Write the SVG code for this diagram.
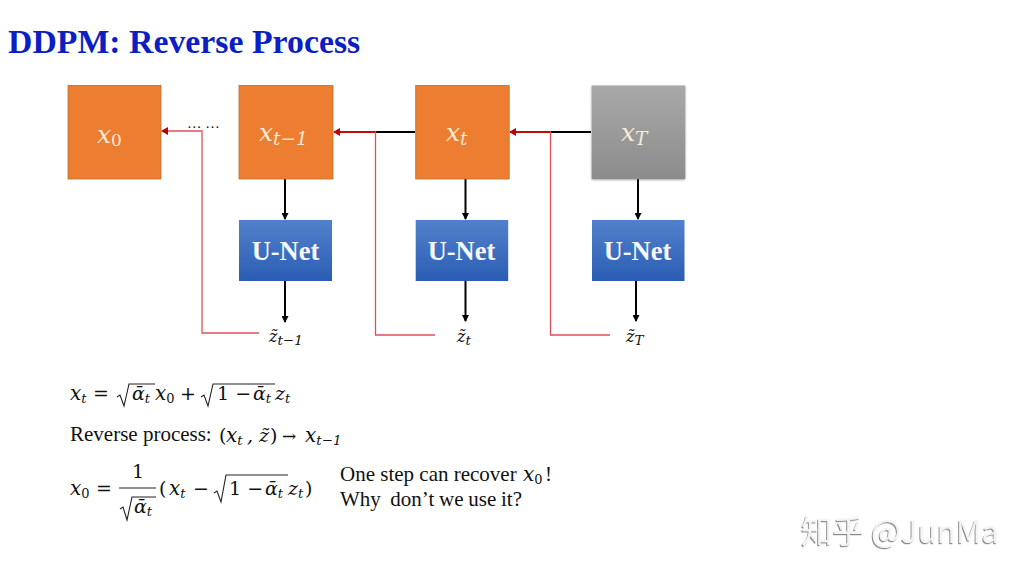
<svg xmlns="http://www.w3.org/2000/svg" width="1024" height="576" viewBox="0 0 1024 576">
<defs>
<linearGradient id="blue" x1="0" y1="0" x2="0" y2="1"><stop offset="0" stop-color="#5280cc"/><stop offset="1" stop-color="#2a5db3"/></linearGradient>
<linearGradient id="gray" x1="0" y1="0" x2="0" y2="1"><stop offset="0" stop-color="#a8a8a8"/><stop offset="1" stop-color="#8c8c8c"/></linearGradient>
<marker id="ab" markerWidth="7" markerHeight="7" refX="6" refY="3.5" orient="auto" markerUnits="userSpaceOnUse" viewBox="0 0 7 7"><path d="M0 0L7 3.500L0 7Z" fill="#000"/></marker>
<marker id="ar" markerWidth="7" markerHeight="8" refX="6" refY="4" orient="auto" markerUnits="userSpaceOnUse" viewBox="0 0 7 8"><path d="M0 0L7 4L0 8Z" fill="#c00000"/></marker>
<filter id="emboss" x="-5%" y="-20%" width="110%" height="140%"><feDropShadow dx="-1" dy="1.2" stdDeviation="0.6" flood-color="#8a8a8a"/></filter>
<filter id="soft" x="-5%" y="-5%" width="112%" height="112%"><feDropShadow dx="0" dy="1" stdDeviation="1.2" flood-color="#666" flood-opacity="0.6"/></filter>
</defs>
<style>
.or{fill:#ed7d31;stroke:#b9702f;stroke-width:.8}
.un{fill:url(#blue)}
.unt{font:bold 26.500px "Liberation Serif",serif;fill:#f4f7fc;text-anchor:middle}
.m{font-family:"DejaVu Serif",serif;font-style:italic;fill:#111}
.mw{font-family:"DejaVu Serif",serif;font-style:italic;fill:#f9ead9}
.r{font-family:"DejaVu Serif",serif;fill:#111}
.t{font:21px "Liberation Serif",serif;fill:#111}
.bk{stroke:#000;stroke-width:2;fill:none}
.rd{stroke:#e0505a;stroke-width:1.3;fill:none}
.rad{stroke:#222;stroke-width:1.1;fill:none}
</style>
<rect width="1024" height="576" fill="#fff"/>
<text id="title" x="8" y="53" style="font:bold 33.800px 'Liberation Serif',serif;fill:#0b1fc4">DDPM: Reverse Process</text>
<g id="connectors">
<path class="bk" d="M415 132H340"/><path class="bk" d="M591 132H516"/>
<path class="rd" d="M259 333H202V131H162" marker-end="url(#ar)"/>
<path class="rd" d="M435 335H375.500V132H334" marker-end="url(#ar)"/>
<path class="rd" d="M610 335H550.500V132H510" marker-end="url(#ar)"/>
<path d="M375 132H336" stroke="#c00000" stroke-width="1.6"/>
<path d="M550 132H511" stroke="#c00000" stroke-width="1.6"/>
<path class="bk" d="M285 179V219" marker-end="url(#ab)"/><path class="bk" d="M285 281V322" marker-end="url(#ab)"/>
<path class="bk" d="M465.500 179V219" marker-end="url(#ab)"/><path class="bk" d="M465.500 281V321" marker-end="url(#ab)"/>
<path class="bk" d="M638 179V219" marker-end="url(#ab)"/><path class="bk" d="M636 281V321" marker-end="url(#ab)"/>
</g>
<g id="node-x0"><rect class="or" x="68" y="85.500" width="93" height="93.500"/><text class="mw" x="97" y="143" font-size="25">x<tspan font-style="normal" font-size="17" dy="3">0</tspan></text></g>
<g id="node-xt1"><rect class="or" x="239" y="85.500" width="94" height="93.500"/><text class="mw" x="259" y="141" font-size="25">x<tspan font-size="18.500" dy="4">t−1</tspan></text></g>
<g id="node-xt"><rect class="or" x="415.700" y="85.500" width="93.500" height="93.500"/><text class="mw" x="446" y="141" font-size="25">x<tspan font-size="18.500" dy="4">t</tspan></text></g>
<g id="node-xT"><rect x="591.700" y="85.500" width="93.500" height="93.500" fill="url(#gray)" filter="url(#soft)"/><text class="mw" x="621" y="141" font-size="25">x<tspan font-size="18.500" dy="4">T</tspan></text></g>
<g id="unet-1"><rect class="un" x="239" y="220" width="93" height="61"/><text class="unt" x="285.500" y="260">U-Net</text></g>
<g id="unet-2"><rect class="un" x="415.700" y="220" width="92.500" height="61"/><text class="unt" x="461.500" y="260">U-Net</text></g>
<g id="unet-3"><rect class="un" x="592" y="220" width="92.500" height="61"/><text class="unt" x="637.500" y="260">U-Net</text></g>
<text id="dots" x="187" y="128" style="font:14.500px 'Liberation Serif',serif;fill:#111">… …</text>
<g id="z-labels">
<text class="m" x="269" y="342" font-size="16">z̃<tspan font-size="13.500" dy="3">t−1</tspan></text>
<text class="m" x="457" y="342" font-size="16">z̃<tspan font-size="13.500" dy="3">t</tspan></text>
<text class="m" x="626" y="342" font-size="16">z̃<tspan font-size="13.500" dy="3">T</tspan></text>
</g>
<g id="formula-1">
<text class="m" x="70" y="400" font-size="20">x<tspan font-size="13" dy="3">t</tspan></text>
<text class="r" x="93" y="400" font-size="19">=</text>
<path class="rad" d="M117 397L120 395L124 406L129 384H155"/>
<text class="m" x="132" y="400" font-size="19">ᾱ<tspan font-size="13" dy="3">t</tspan></text>
<text class="m" x="155" y="400" font-size="20">x<tspan font-style="normal" font-size="13" dy="3">0</tspan></text>
<text class="r" x="180" y="400" font-size="19">+</text>
<path class="rad" d="M201 397L204 395L208 406L213 384H275"/>
<text class="r" x="217" y="400" font-size="19">1 −</text>
<text class="m" x="253" y="400" font-size="19">ᾱ<tspan font-size="13" dy="3">t</tspan></text>
<text class="m" x="275" y="400" font-size="19">z<tspan font-size="13" dy="3">t</tspan></text>
</g>
<g id="formula-2">
<text class="t" x="70" y="441">Reverse process:</text>
<text class="r" x="219" y="442" font-size="19">(</text>
<text class="m" x="226" y="442" font-size="20">x<tspan font-size="13" dy="3">t</tspan></text>
<text class="m" x="247" y="442" font-size="19">, z̃</text>
<text class="r" x="270" y="442" font-size="19">)</text>
<text class="r" x="282" y="442" font-size="17">→</text>
<text class="m" x="305" y="442" font-size="20">x<tspan font-size="13.500" dy="3">t−1</tspan></text>
</g>
<g id="formula-3">
<text class="m" x="70" y="495" font-size="20">x<tspan font-style="normal" font-size="13" dy="3">0</tspan></text>
<text class="r" x="96" y="495" font-size="19">=</text>
<text class="r" x="132" y="478" font-size="19">1</text>
<path class="rad" d="M119 488H156"/>
<path class="rad" d="M120 509L123 507L127 520L132 497H156"/>
<text class="m" x="134" y="513" font-size="19">ᾱ<tspan font-size="13" dy="3">t</tspan></text>
<text class="r" x="159" y="495" font-size="19">(</text>
<text class="m" x="169" y="495" font-size="20">x<tspan font-size="13" dy="3">t</tspan></text>
<text class="r" x="193" y="495" font-size="19">−</text>
<path class="rad" d="M214 493L217 491L221 502L226 475H288"/>
<text class="r" x="229" y="495" font-size="19">1 −</text>
<text class="m" x="265" y="495" font-size="19">ᾱ<tspan font-size="13" dy="3">t</tspan></text>
<text class="m" x="288" y="495" font-size="19">z<tspan font-size="13" dy="3">t</tspan></text>
<text class="r" x="305" y="495" font-size="19">)</text>
</g>
<g id="note">
<text class="t" x="340" y="481">One step can recover</text>
<text class="m" x="523" y="481" font-size="20">x<tspan font-style="normal" font-size="13" dy="3">0</tspan></text>
<text class="t" x="545" y="481">!</text>
<text class="t" x="340" y="506" xml:space="preserve" word-spacing="-0.5">Why  don’t we use it?</text>
</g>
<text id="watermark" x="801" y="543" filter="url(#emboss)" style="font:31.500px 'Noto Sans CJK SC','Noto Sans',sans-serif;fill:#f4f4f4">知乎 @JunMa</text>
</svg>
